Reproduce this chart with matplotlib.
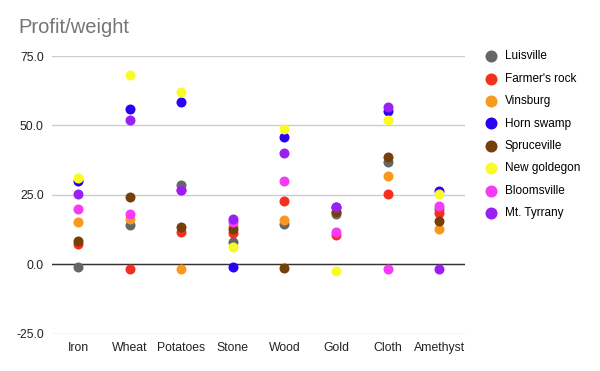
import numpy as np
import matplotlib.pyplot as plt

plt.rcParams['font.family'] = ['Liberation Sans', 'DejaVu Sans']

categories = ['Iron', 'Wheat', 'Potatoes', 'Stone', 'Wood', 'Gold', 'Cloth', 'Amethyst']

luisville = [-0.9, 14.1, 28.6, 7.9, 14.4, 18.1, 36.9, 20.0]
farmers_rock = [7.3, -1.8, 11.7, 11.3, 23.0, 10.7, 25.2, 18.6]
vinsburg = [15.2, 16.2, -1.6, 14.0, 15.9, 18.9, 31.8, 12.8]
horn_swamp = [30.1, 56.1, 58.5, -1.1, 45.7, 20.7, 55.1, 26.5]
spruceville = [8.3, 24.1, 13.5, 12.6, -1.3, 18.9, 38.5, 15.7]
new_goldegon = [31.2, 68.1, 61.9, 6.4, 48.7, -2.3, 51.8, 25.4]
bloomsville = [20.1, 18.2, 26.8, 15.1, 30.2, 11.6, -1.6, 21.2]
mt_tyrrany = [25.2, 52.1, 26.8, 16.4, 40.1, 20.7, 56.8, -1.6]

series = [
    ('Luisville', luisville, '#666666'),
    ("Farmer's rock", farmers_rock, '#f3301f'),
    ('Vinsburg', vinsburg, '#f8991f'),
    ('Horn swamp', horn_swamp, '#2b00f5'),
    ('Spruceville', spruceville, '#763f0a'),
    ('New goldegon', new_goldegon, '#fafa27'),
    ('Bloomsville', bloomsville, '#f63af5'),
    ('Mt. Tyrrany', mt_tyrrany, '#9a1ff2'),
]

fig = plt.figure(figsize=(6, 3.71), dpi=100)
ax = fig.add_axes([0.087, 0.1, 0.688, 0.749])

x = np.arange(len(categories))
for i, (name, vals, col) in enumerate(series):
    ax.scatter(x, vals, s=52, color=col, label=name, zorder=3 + i, linewidths=0)

ax.set_xlim(-0.5, len(categories) - 0.5)
ax.set_ylim(-25, 75)
ax.set_yticks([-25, 0, 25, 50, 75])
ax.set_yticklabels(['-25.0', '0.0', '25.0', '50.0', '75.0'])
ax.set_xticks(x)
ax.set_xticklabels(categories)
ax.grid(axis='y', color='#cccccc', linewidth=1)
ax.axhline(0, color='#333333', linewidth=1, zorder=2)
ax.set_axisbelow(True)
for s in ax.spines.values():
    s.set_visible(False)
ax.tick_params(axis='both', length=0, labelsize=8.8, colors='#222222', pad=6)

fig.text(0.03, 0.925, 'Profit/weight', fontsize=14.5, color='#757575', va='center')

fig.legend(loc='upper left', bbox_to_anchor=(0.79, 0.877), frameon=False,
           fontsize=8.5, labelspacing=0.88, handletextpad=0.2, borderaxespad=0,
           markerscale=1.2, scatterpoints=1)

fig.savefig('out.png', dpi=100)
